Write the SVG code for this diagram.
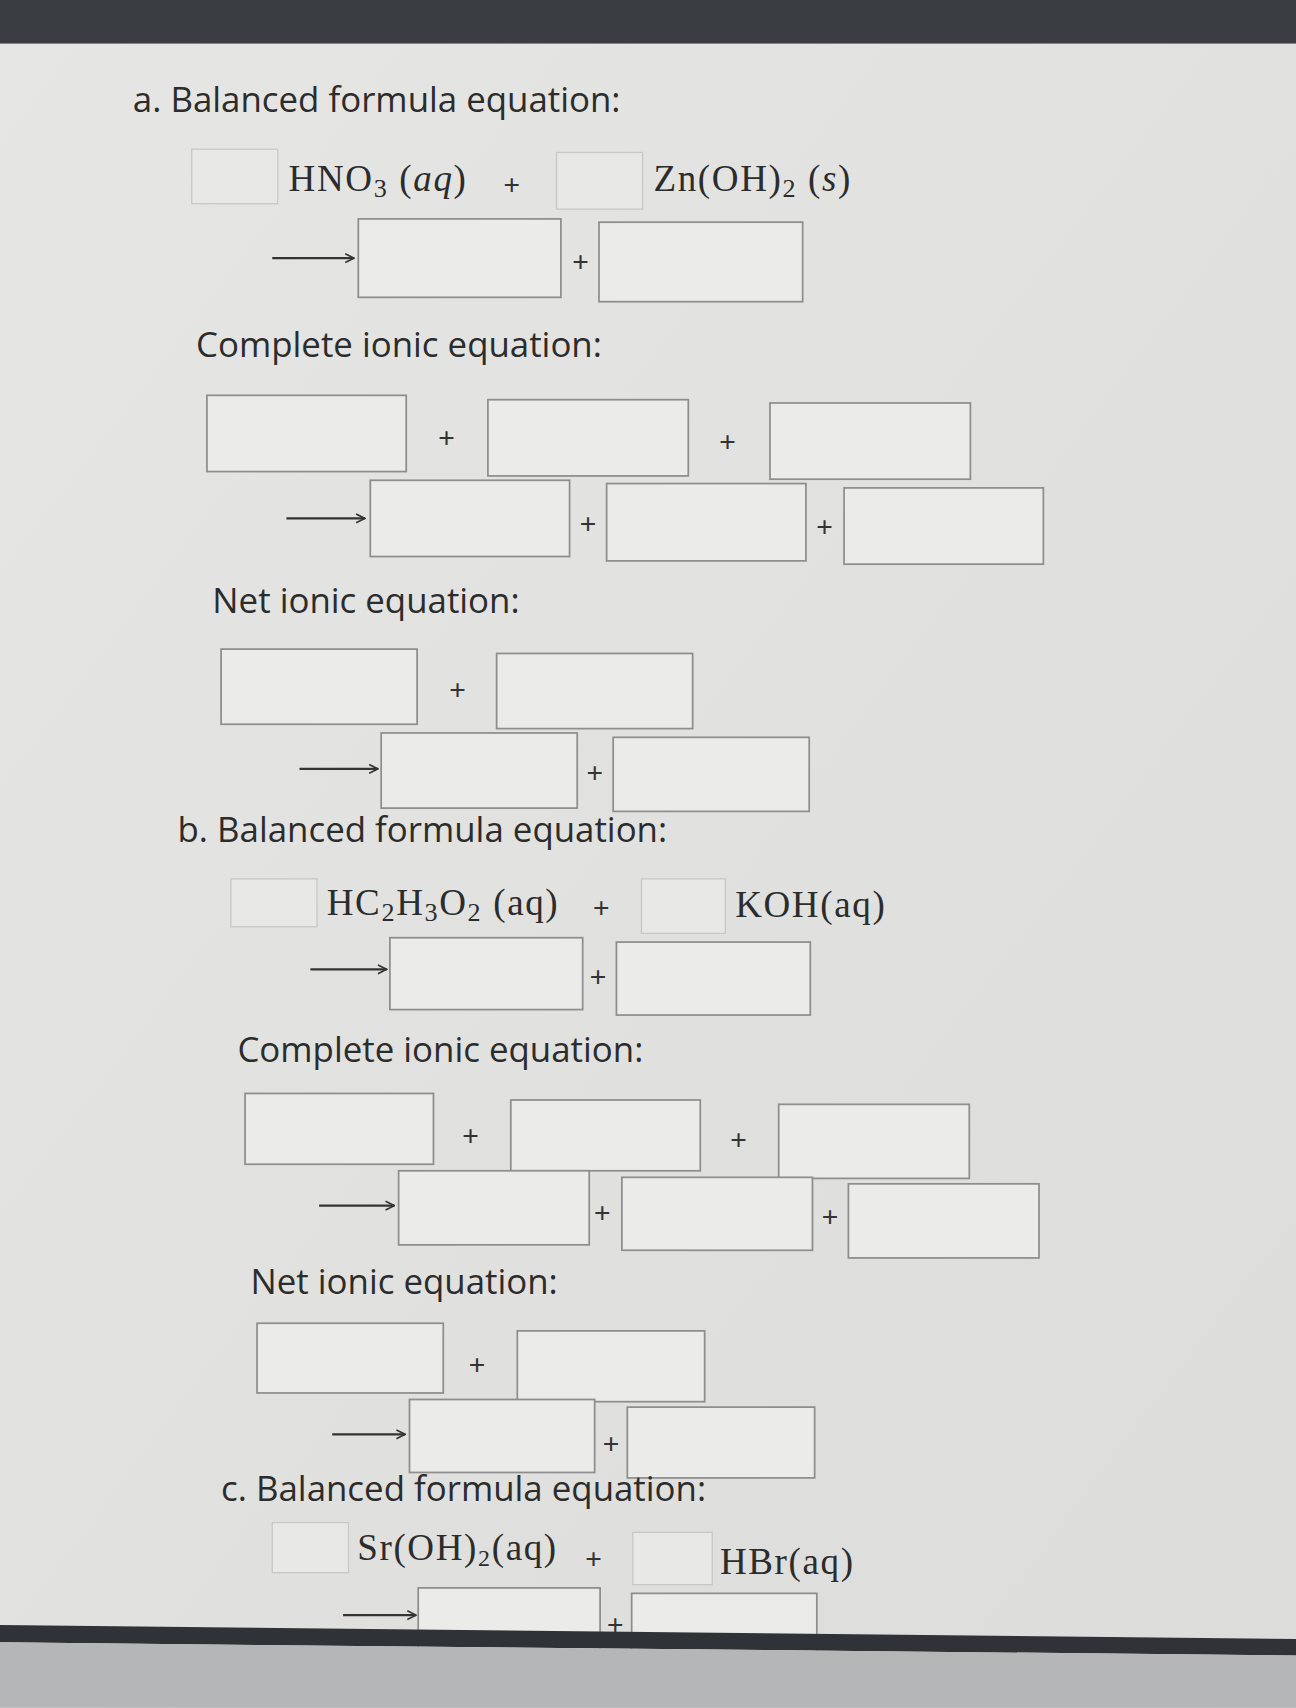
<svg xmlns="http://www.w3.org/2000/svg" width="1296" height="1708" viewBox="0 0 1296 1708">
<defs>
<linearGradient id="bg" x1="0" y1="0" x2="1" y2="1"><stop offset="0" stop-color="#e6e6e4"/><stop offset="1" stop-color="#dcdcda"/></linearGradient>
<marker id="ah" markerWidth="10" markerHeight="10" refX="9" refY="5" orient="auto" markerUnits="userSpaceOnUse"><path d="M1,1 L9,5 L1,9" fill="none" stroke="#333" stroke-width="1.5"/></marker>
</defs>
<style>
.b{fill:#ebebe9;stroke:#8e8e8e;stroke-width:1.6}
.s{fill:#e8e8e6;stroke:#c8c8c6;stroke-width:1.2}
.h{font-family:"Open Sans","Liberation Sans",sans-serif;font-size:32px;fill:#2c2c2c}
.f{font-family:"Liberation Serif",serif;font-size:34px;fill:#2c2c2c;letter-spacing:1.5px}
.p{font-family:"Liberation Sans",sans-serif;font-size:26px;fill:#333;text-anchor:middle}
.a{stroke:#333;stroke-width:2;fill:none}
</style>
<rect width="1296" height="1708" fill="url(#bg)"/>
<g transform="scale(1.0891)">
<rect x="0" y="0" width="1190" height="40" fill="#3a3d42"/>
<g id="connectors">
<line class="a" x1="250" y1="237" x2="325" y2="237" marker-end="url(#ah)"/>
<line class="a" x1="263" y1="476" x2="335" y2="476" marker-end="url(#ah)"/>
<line class="a" x1="275" y1="706" x2="347" y2="706" marker-end="url(#ah)"/>
<line class="a" x1="285" y1="890" x2="355" y2="890" marker-end="url(#ah)"/>
<line class="a" x1="293" y1="1107" x2="362" y2="1107" marker-end="url(#ah)"/>
<line class="a" x1="305" y1="1317" x2="372" y2="1317" marker-end="url(#ah)"/>
<line class="a" x1="315" y1="1483" x2="382" y2="1483" marker-end="url(#ah)"/>
</g>
<g id="partA">
<text class="h" x="122" y="103">a. Balanced formula equation:</text>
<rect class="s" x="176" y="137" width="79" height="50"/>
<text class="f" x="265" y="175">HNO<tspan font-size="24" dy="6">3</tspan><tspan dy="-6"> (</tspan><tspan font-style="italic">aq</tspan>)</text>
<text class="p" x="470" y="178">+</text>
<rect class="s" x="511" y="140" width="79" height="52"/>
<text class="f" x="600" y="175">Zn(OH)<tspan font-size="24" dy="6">2</tspan><tspan dy="-6"> (</tspan><tspan font-style="italic">s</tspan>)</text>
<rect class="b" x="329" y="201" width="186" height="72"/><text class="p" x="533" y="249">+</text><rect class="b" x="550" y="204" width="187" height="73"/>
<text class="h" x="180" y="328">Complete ionic equation:</text>
<rect class="b" x="190" y="363" width="183" height="70"/><text class="p" x="410" y="410">+</text>
<rect class="b" x="448" y="367" width="184" height="70"/><text class="p" x="668" y="414">+</text>
<rect class="b" x="707" y="370" width="184" height="70"/>
<rect class="b" x="340" y="441" width="183" height="70"/><text class="p" x="540" y="489">+</text>
<rect class="b" x="557" y="444" width="183" height="71"/><text class="p" x="757" y="492">+</text>
<rect class="b" x="775" y="448" width="183" height="70"/>
<text class="h" x="195" y="563">Net ionic equation:</text>
<rect class="b" x="203" y="596" width="180" height="69"/><text class="p" x="420" y="642">+</text>
<rect class="b" x="456" y="600" width="180" height="69"/>
<rect class="b" x="350" y="673" width="180" height="69"/><text class="p" x="546" y="718">+</text>
<rect class="b" x="563" y="677" width="180" height="68"/>
</g>
<g id="partB">
<text class="h" x="163" y="773">b. Balanced formula equation:</text>
<rect class="s" x="212" y="807" width="79" height="44"/>
<text class="f" x="300" y="840">HC<tspan font-size="24" dy="6">2</tspan><tspan dy="-6">H</tspan><tspan font-size="24" dy="6">3</tspan><tspan dy="-6">O</tspan><tspan font-size="24" dy="6">2</tspan><tspan dy="-6"> (aq)</tspan></text>
<text class="p" x="552" y="842">+</text>
<rect class="s" x="589" y="807" width="77" height="50"/>
<text class="f" x="675" y="842">KOH(aq)</text>
<rect class="b" x="358" y="861" width="177" height="66"/><text class="p" x="549" y="905">+</text><rect class="b" x="566" y="865" width="178" height="67"/>
<text class="h" x="218" y="975">Complete ionic equation:</text>
<rect class="b" x="225" y="1004" width="173" height="65"/><text class="p" x="432" y="1051">+</text>
<rect class="b" x="469" y="1010" width="174" height="65"/><text class="p" x="678" y="1055">+</text>
<rect class="b" x="715" y="1014" width="175" height="68"/>
<rect class="b" x="366" y="1075" width="175" height="68"/><text class="p" x="553" y="1122">+</text>
<rect class="b" x="571" y="1081" width="175" height="67"/><text class="p" x="762" y="1126">+</text>
<rect class="b" x="779" y="1087" width="175" height="68"/>
<text class="h" x="230" y="1188" font-size="30">Net ionic equation:</text>
<rect class="b" x="236" y="1215" width="171" height="64"/><text class="p" x="438" y="1262">+</text>
<rect class="b" x="475" y="1222" width="172" height="65"/>
<rect class="b" x="376" y="1285" width="170" height="67"/><text class="p" x="561" y="1334">+</text>
<rect class="b" x="576" y="1292" width="172" height="65"/>
</g>
<g id="partC">
<text class="h" x="203" y="1378" font-size="29">c. Balanced formula equation:</text>
<rect class="s" x="250" y="1398" width="70" height="46"/>
<text class="f" x="328" y="1432" font-size="31">Sr(OH)<tspan font-size="22" dy="6">2</tspan><tspan dy="-6">(aq)</tspan></text>
<text class="p" x="545" y="1440">+</text>
<rect class="s" x="581" y="1407" width="73" height="48"/>
<text class="f" x="661" y="1445" font-size="31">HBr(aq)</text>
<rect class="b" x="384" y="1458" width="167" height="60"/><text class="p" x="565" y="1500">+</text><rect class="b" x="580" y="1463" width="170" height="55"/>
</g>
<path d="M0,1492 L1190,1505 L1190,1520 L0,1508 Z" fill="#2f3236"/>
<path d="M0,1508 L1190,1520 L1190,1568 L0,1568 Z" fill="#b4b6b8"/>
</g>
</svg>
